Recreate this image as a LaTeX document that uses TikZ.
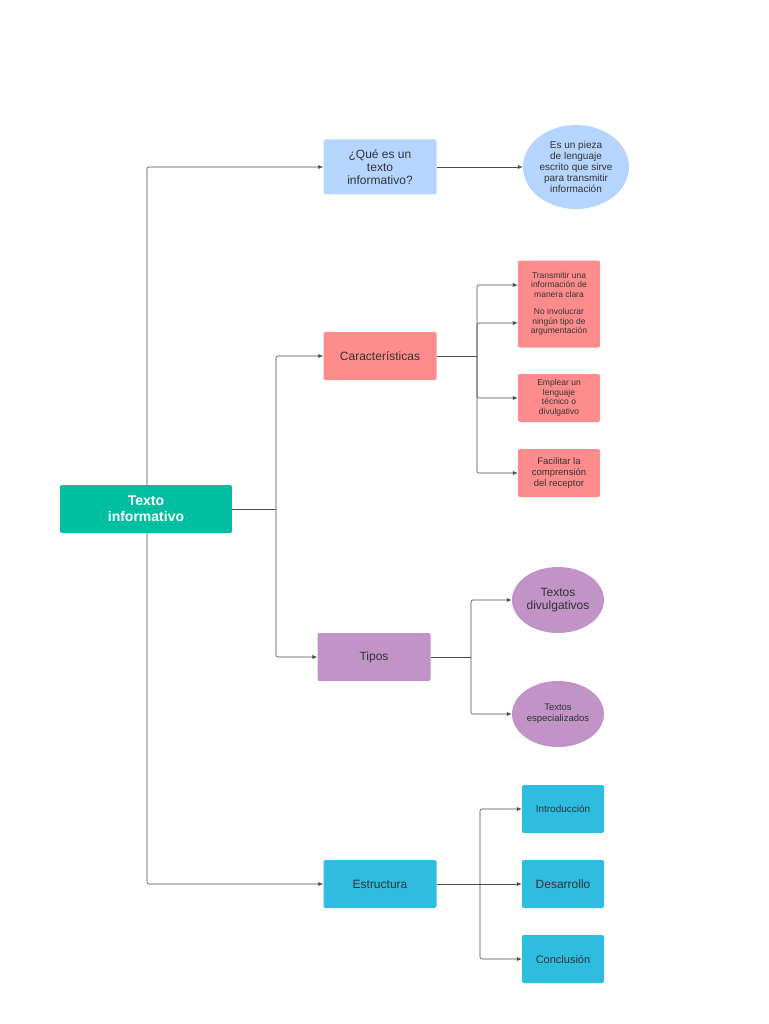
\documentclass[tikz,border=0pt]{standalone}
\usepackage{fontspec}
\setmainfont{Liberation Sans}
\usetikzlibrary{arrows.meta, shapes.geometric}
\definecolor{teal1}{HTML}{00BFA0}
\definecolor{blue1}{HTML}{B5D5FF}
\definecolor{red1}{HTML}{FF8C8C}
\definecolor{purp1}{HTML}{C193C7}
\definecolor{cyan1}{HTML}{2EBDE1}
\definecolor{txt}{HTML}{333333}
\begin{document}
\begin{tikzpicture}[x=1pt, y=-1pt,
    box/.style={rectangle, rounded corners=2pt, draw=none, align=center, text=txt, inner sep=1pt},
    big/.style={box, minimum width=113pt, minimum height=48pt, font=\fontsize{12}{13}\selectfont},
    small/.style={box, minimum width=82pt, minimum height=48pt, font=\fontsize{8.5}{9.5}\selectfont, fill=red1},
    oval/.style={ellipse, draw=none, align=center, text=txt, inner sep=0pt},
    arr/.style={draw=black!70, line width=0.6pt, -{Latex[length=5pt, width=4pt]}},
    ln/.style={draw=black!70, line width=0.6pt}
]
\useasboundingbox (0,0) rectangle (768,1024);
\fill[white] (0,0) rectangle (768,1024);

\node[box, fill=teal1, text=white, minimum width=172pt, minimum height=48pt,
      font=\bfseries\fontsize{14}{16}\selectfont] (root) at (146,509) {Texto\\informativo};

\node[big, fill=blue1, minimum height=55pt] (que) at (380,167) {¿Qué es un\\texto\\informativo?};
\node[oval, fill=blue1, minimum width=106pt, minimum height=84pt,
      font=\fontsize{10}{11}\selectfont] (def) at (576,167)
      {Es un pieza\\de lenguaje\\escrito que sirve\\para transmitir\\información};

\node[big, fill=red1] (car) at (380,356) {Características};
\node[small, minimum height=87pt] (c1) at (559,304)
      {Transmitir una\\información de\\manera clara\\[8pt]No involucrar\\ningún tipo de\\argumentación};
\node[small] (c2) at (559,398) {Emplear un\\lenguaje\\técnico o\\divulgativo};
\node[small, font=\fontsize{9.5}{11}\selectfont] (c3) at (559,473) {Facilitar la\\comprensión\\del receptor};

\node[big, fill=purp1] (tip) at (374,657) {Tipos};
\node[oval, fill=purp1, minimum width=92pt, minimum height=66pt,
      font=\fontsize{12}{13}\selectfont] (t1) at (558,600) {Textos\\divulgativos};
\node[oval, fill=purp1, minimum width=92pt, minimum height=66pt,
      font=\fontsize{9.5}{11}\selectfont] (t2) at (558,714) {Textos\\especializados};

\node[big, fill=cyan1] (est) at (380,884) {Estructura};
\node[box, fill=cyan1, minimum width=82pt, minimum height=48pt, font=\fontsize{10}{11}\selectfont] (e1) at (563,809) {Introducción};
\node[box, fill=cyan1, minimum width=82pt, minimum height=48pt, font=\fontsize{12}{13}\selectfont] (e2) at (563,884) {Desarrollo};
\node[box, fill=cyan1, minimum width=82pt, minimum height=48pt, font=\fontsize{11}{12}\selectfont] (e3) at (563,959) {Conclusión};

% root links
\draw[arr, rounded corners=2pt] (root.north) ++(1,0) |- (que.west);
\draw[arr, rounded corners=2pt] (root.south) ++(1,0) |- (est.west);
\coordinate (rj) at (276,509);
\draw[ln] (root.east) -- (rj);
\draw[arr, rounded corners=2pt] (rj) |- (car.west);
\draw[arr, rounded corners=2pt] (rj) |- (tip.west);
\draw[arr] (que.east) -- (def.west);

% caracteristicas
\coordinate (cj) at (477,356);
\draw[ln] (car.east) -- (cj);
\draw[arr, rounded corners=2pt] (cj) |- ([yshift=-19pt]c1.west);
\draw[arr, rounded corners=2pt] (cj) |- ([yshift=19pt]c1.west);
\draw[arr, rounded corners=2pt] (cj) |- (c2.west);
\draw[arr, rounded corners=2pt] (cj) |- (c3.west);

% tipos
\coordinate (tj) at (471,657);
\draw[ln] (tip.east) -- (tj);
\draw[arr, rounded corners=2pt] (tj) |- (t1.west);
\draw[arr, rounded corners=2pt] (tj) |- (t2.west);

% estructura
\coordinate (ej) at (480,884);
\draw[ln] (est.east) -- (ej);
\draw[arr, rounded corners=2pt] (ej) |- (e1.west);
\draw[arr] (ej) -- (e2.west);
\draw[arr, rounded corners=2pt] (ej) |- (e3.west);
\end{tikzpicture}
\end{document}
